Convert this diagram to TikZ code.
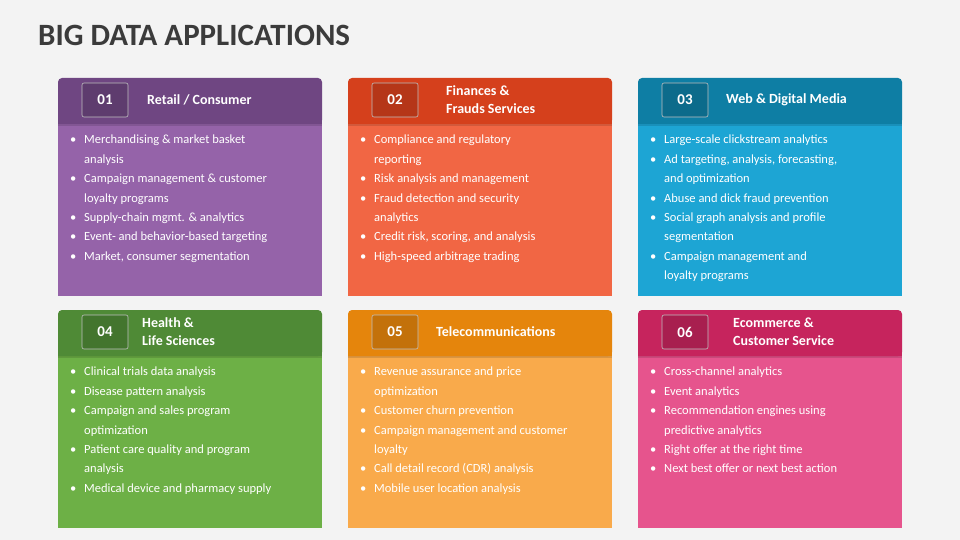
\documentclass[tikz,border=0pt]{standalone}
\usepackage{fontspec}
\setmainfont{Carlito}
\definecolor{bg}{HTML}{F3F3F3}
\definecolor{ttl}{HTML}{3B3B3B}
\definecolor{hA}{HTML}{6F4682}\definecolor{bA}{HTML}{9563A9}
\definecolor{hB}{HTML}{D5401C}\definecolor{bB}{HTML}{F16644}
\definecolor{hC}{HTML}{0E7EA4}\definecolor{bC}{HTML}{1DA5D4}
\definecolor{hD}{HTML}{4F8A36}\definecolor{bD}{HTML}{6DB046}
\definecolor{hE}{HTML}{E5850C}\definecolor{bE}{HTML}{F9AA4B}
\definecolor{hF}{HTML}{C6245D}\definecolor{bF}{HTML}{E6548D}
\newcommand{\bi}[1]{\makebox[14pt][l]{\textbullet}#1\\}
\newcommand{\ci}[1]{\hspace*{14pt}#1\\}
\tikzset{
 txt/.style={anchor=north west,align=left,text=white,inner sep=0pt,font=\fontsize{12.5}{19.4}\selectfont},
 htxt/.style={anchor=west,align=left,text=white,inner sep=0pt,font=\fontsize{14}{18}\selectfont\bfseries},
 numbox/.style={draw=white!75!black,line width=0.6pt,rounded corners=2pt,minimum width=46pt,minimum height=34pt,inner sep=0pt,text=white,font=\fontsize{15}{18}\selectfont\bfseries}
}
\newcommand{\card}[8]{% #1 x, #2 y, #3 hcol, #4 bcol, #5 num, #6 title, #7 titlex offset, #8 body
 \fill[#4] (#1,#2+45) rectangle (#1+264,#2+218);
 \fill[#3,rounded corners=4pt] (#1,#2+46) -- (#1,#2) -- (#1+264,#2) -- (#1+264,#2+46) [sharp corners] -- cycle;
 \fill[#3] (#1,#2+30) rectangle (#1+264,#2+46);
 \fill[black,opacity=0.12] (#1,#2+46) rectangle (#1+264,#2+48);
 \node[numbox,fill=#3!85!black] (n#5) at (#1+47,#2+22) {#5};
 \node[htxt] (t#5) at (#1+#7,#2+22) {#6};
 \node[txt] (b#5) at (#1+12,#2+57) {#8};
}
\begin{document}
\begin{tikzpicture}[x=1pt,y=-1pt]
\fill[bg] (0,0) rectangle (960,540);
\useasboundingbox (0,0) rectangle (960,540);
\node[anchor=west,text=ttl,inner sep=0pt,font=\fontsize{31}{34}\selectfont\bfseries] (title) at (38,35) {BIG DATA APPLICATIONS};
\card{58}{78}{hA}{bA}{01}{Retail / Consumer}{89}{\bi{Merchandising \& market basket}\ci{analysis}\bi{Campaign management \& customer}\ci{loyalty programs}\bi{Supply-chain mgmt. \& analytics}\bi{Event- and behavior-based targeting}\bi{Market, consumer segmentation}}
\card{348}{78}{hB}{bB}{02}{Finances \&\\Frauds Services}{98}{\bi{Compliance and regulatory}\ci{reporting}\bi{Risk analysis and management}\bi{Fraud detection and security}\ci{analytics}\bi{Credit risk, scoring, and analysis}\bi{High-speed arbitrage trading}}
\card{638}{78}{hC}{bC}{03}{Web \& Digital Media}{88}{\bi{Large-scale clickstream analytics}\bi{Ad targeting, analysis, forecasting,}\ci{and optimization}\bi{Abuse and dick fraud prevention}\bi{Social graph analysis and profile}\ci{segmentation}\bi{Campaign management and}\ci{loyalty programs}}
\card{58}{310}{hD}{bD}{04}{Health \&\\Life Sciences}{84}{\bi{Clinical trials data analysis}\bi{Disease pattern analysis}\bi{Campaign and sales program}\ci{optimization}\bi{Patient care quality and program}\ci{analysis}\bi{Medical device and pharmacy supply}}
\card{348}{310}{hE}{bE}{05}{Telecommunications}{88}{\bi{Revenue assurance and price}\ci{optimization}\bi{Customer churn prevention}\bi{Campaign management and customer}\ci{loyalty}\bi{Call detail record (CDR) analysis}\bi{Mobile user location analysis}}
\card{638}{310}{hF}{bF}{06}{Ecommerce \&\\Customer Service}{95}{\bi{Cross-channel analytics}\bi{Event analytics}\bi{Recommendation engines using}\ci{predictive analytics}\bi{Right offer at the right time}\bi{Next best offer or next best action}}
\end{tikzpicture}
\end{document}
